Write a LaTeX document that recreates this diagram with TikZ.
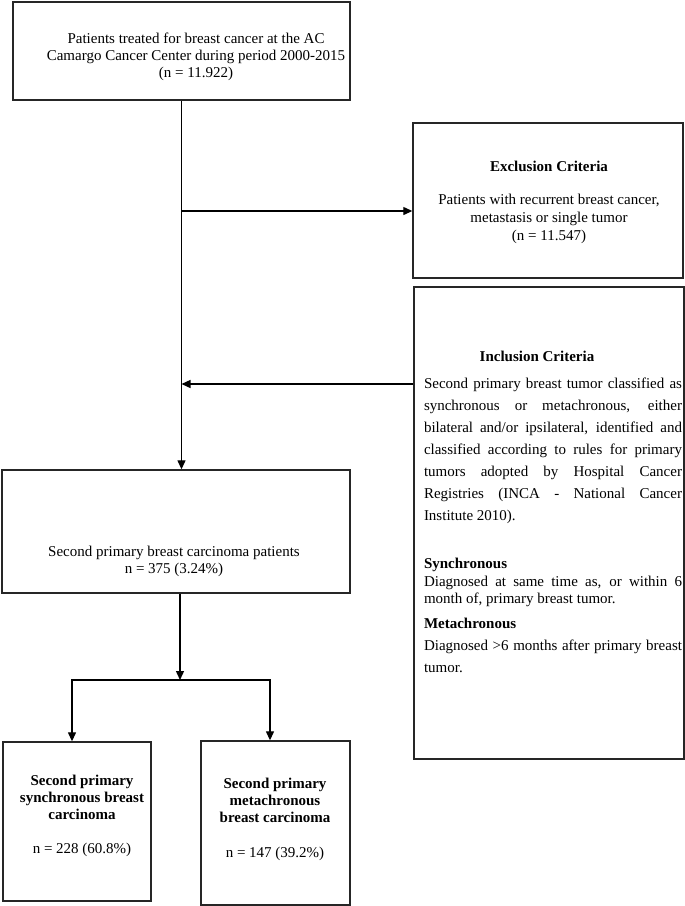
\documentclass[tikz,border=0pt]{standalone}
\usepackage{fontspec}
\setmainfont{Liberation Serif}
\usetikzlibrary{arrows.meta, positioning}
\setlength{\parindent}{0pt}
\newcommand{\boxfont}{\fontsize{15}{18}\selectfont}
\newcommand{\topfont}{\fontsize{15}{17}\selectfont}
\newcommand{\inclfont}{\fontsize{15}{21.9}\selectfont}
\newcommand{\deffont}{\fontsize{15}{17.5}\selectfont}

\begin{document}
\begin{tikzpicture}[x=1pt, y=-1pt,
  frame/.style={draw=black!85, line width=1.4pt, inner sep=0pt},
  txt/.style={align=center, inner sep=0pt, font=\boxfont},
  link/.style={line width=1.3pt, -{Triangle[length=9pt, width=8pt]}}]
  \useasboundingbox (0,0) rectangle (685,906);

  % boxes
  \node[frame, minimum width=337pt, minimum height=98pt] (top) at (181.5,51) {};
  \node[txt, font=\topfont] (toptext) at (196,57) {Patients treated for breast cancer at the AC\\
    Camargo Cancer Center during period 2000-2015\\(n = 11.922)};

  \node[frame, minimum width=270pt, minimum height=155pt] (excl) at (548,200.5) {};
  \node[txt] (excltext) at (549,202) {\textbf{Exclusion Criteria}\\[15pt]
    Patients with recurrent breast cancer,\\metastasis or single tumor\\(n = 11.547)};

  \node[frame, minimum width=270pt, minimum height=472pt] (incl) at (549,523) {};
  \node[txt] (incltitle) at (537,356) {\textbf{Inclusion Criteria}};
  \node[inner sep=0pt, anchor=north, text width=258pt, align=justify, font=\inclfont] (incltext) at (553,378)
    {Second primary breast tumor classified as\linebreak synchronous or metachronous, either\linebreak
     bilateral and/or ipsilateral, identified and\linebreak classified according to rules for primary\linebreak
     tumors adopted by Hospital Cancer\linebreak Registries (INCA - National Cancer\linebreak Institute 2010).};
  \node[inner sep=0pt, anchor=north, text width=258pt, align=justify, font=\deffont] (incldefs) at (553,558)
    {\textbf{Synchronous}\par Diagnosed at same time as, or within 6\linebreak month of, primary breast tumor.\par
     \vspace{7pt}\textbf{Metachronous}\par
     {\fontsize{15}{22}\selectfont Diagnosed >6 months after primary breast\linebreak tumor.\par}};

  \node[frame, minimum width=348pt, minimum height=123pt] (second) at (176,531.5) {};
  \node[txt, font=\topfont] (secondtext) at (174,561) {Second primary breast carcinoma patients\\n = 375 (3.24\%)};

  \node[frame, minimum width=148pt, minimum height=159pt] (syn) at (77,821.5) {};
  \node[txt] (syntext) at (82,816) {\textbf{Second primary}\\[-1pt]\textbf{synchronous breast}\\[-1pt]
    \textbf{carcinoma}\\[16pt]n = 228 (60.8\%)};

  \node[frame, minimum width=149pt, minimum height=164pt] (meta) at (275.5,823) {};
  \node[txt] (metatext) at (275,819) {\textbf{Second primary}\\[-1pt]\textbf{metachronous}\\[-1pt]
    \textbf{breast carcinoma}\\[17pt]n = 147 (39.2\%)};

  % connectors
  \coordinate (exclin) at ([yshift=-10.5pt]excl.west);
  \coordinate (inclout) at ([yshift=139pt]incl.west);
  \coordinate (split) at (180,680);
  \draw[link] (top.south) -- (top.south |- second.north);
  \draw[link] (exclin -| top.south) -- (exclin);
  \draw[link] (inclout) -- (inclout -| top.south);
  \draw[link] (second.south -| split) -- (split);
  \draw[link] (split) -| ([xshift=-5pt]syn.north);
  \draw[link] (split) -| ([xshift=-5.5pt]meta.north);
\end{tikzpicture}
\end{document}
